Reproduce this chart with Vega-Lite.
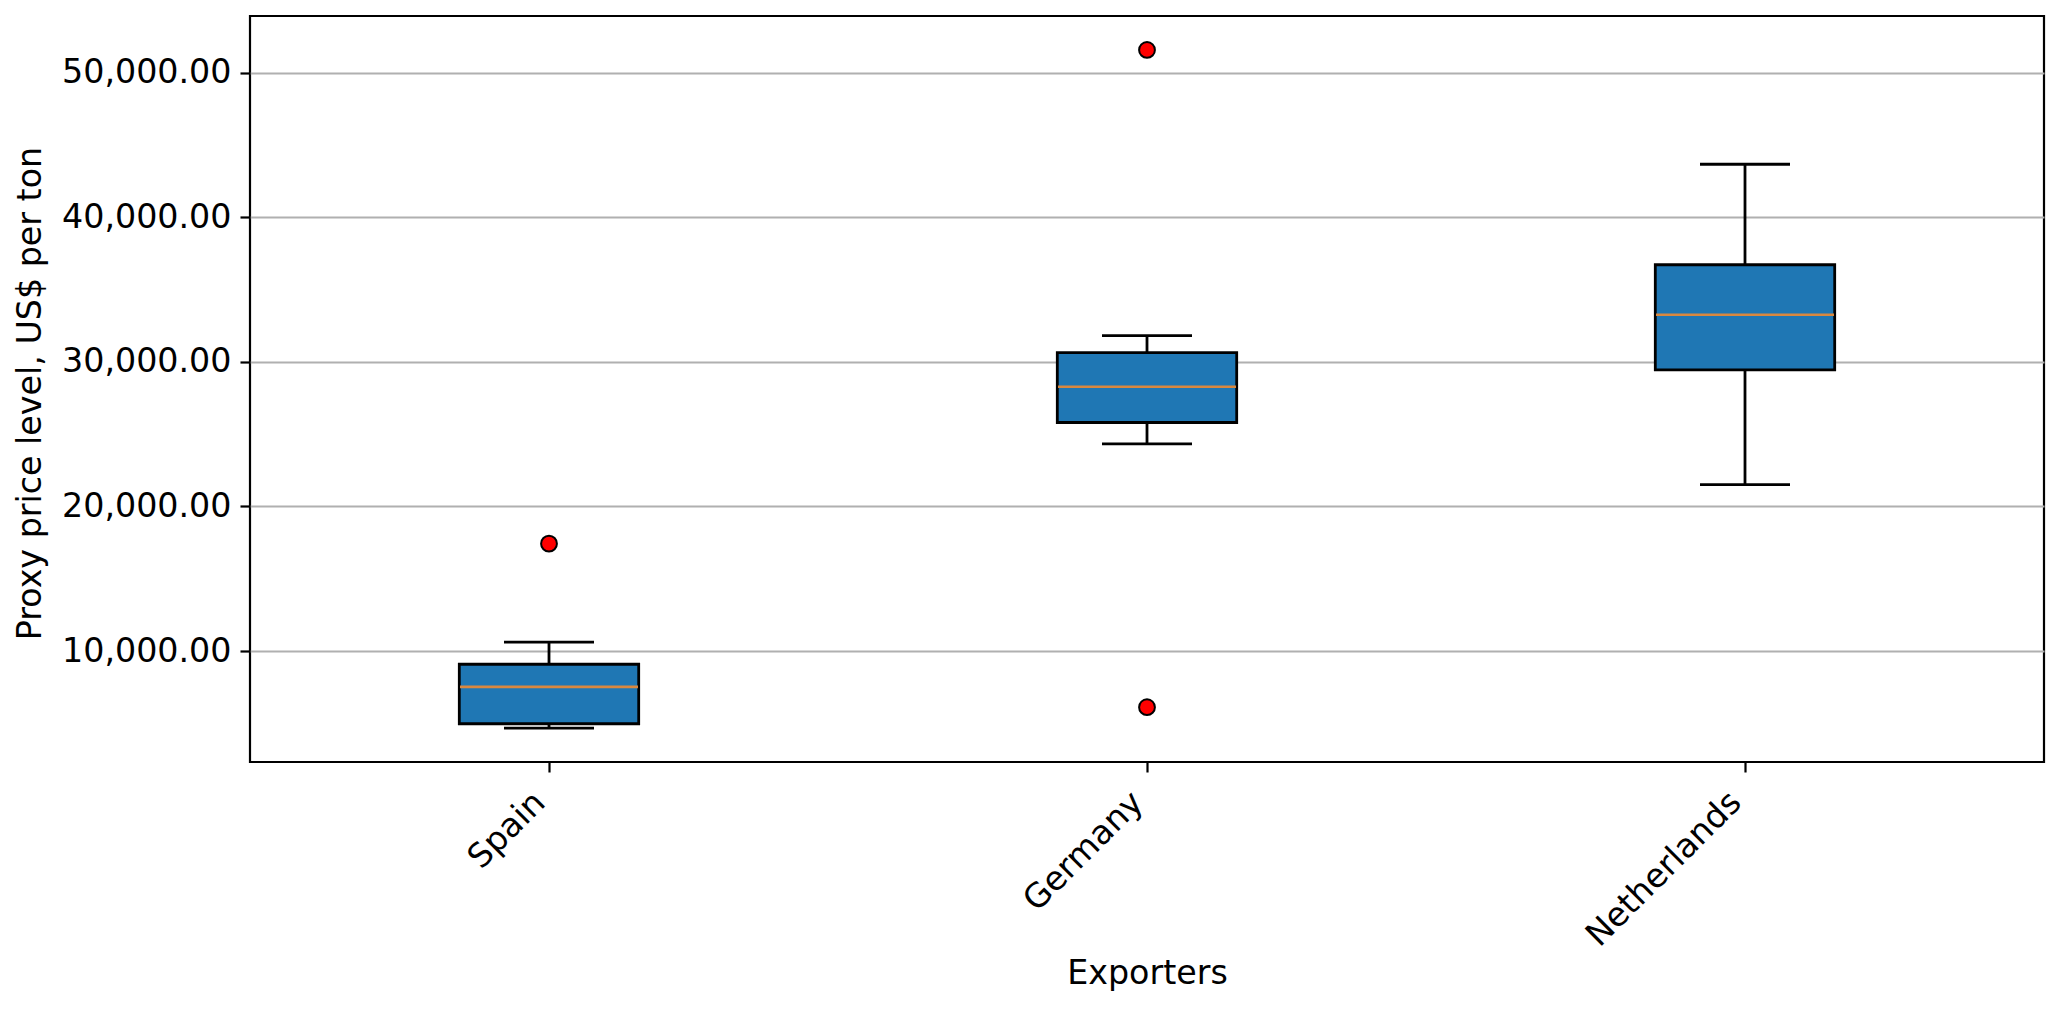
{
  "$schema": "https://vega.github.io/schema/vega-lite/v6.json",
  "autosize": "none",
  "width": 1794,
  "height": 746,
  "padding": {"left": 250, "top": 16, "right": 18, "bottom": 248},
  "background": "white",
  "config": {
    "font": "DejaVu Sans",
    "view": {"stroke": "black", "strokeWidth": 2.2},
    "axis": {
      "labelFont": "DejaVu Sans",
      "titleFont": "DejaVu Sans",
      "labelFontSize": 33.3,
      "titleFontSize": 33.3,
      "labelColor": "black",
      "titleColor": "black",
      "titleFontWeight": "normal",
      "labelLimit": 0,
      "domain": false,
      "tickColor": "black",
      "tickWidth": 2.2,
      "tickSize": 10
    }
  },
  "datasets": {
    "boxes": [
      {"exporter": "Spain", "lower": 4669, "q1": 4966, "median": 7517, "q3": 9083, "upper": 10621},
      {"exporter": "Germany", "lower": 24332, "q1": 25813, "median": 28284, "q3": 30650, "upper": 31820},
      {"exporter": "Netherlands", "lower": 21509, "q1": 29453, "median": 33266, "q3": 36727, "upper": 43682}
    ],
    "outliers": [
      {"exporter": "Spain", "price": 17428},
      {"exporter": "Germany", "price": 51592},
      {"exporter": "Germany", "price": 6111}
    ]
  },
  "data": {"name": "boxes"},
  "encoding": {
    "x": {
      "field": "exporter",
      "type": "nominal",
      "sort": ["Spain", "Germany", "Netherlands"],
      "scale": {"type": "band", "paddingInner": 0, "paddingOuter": 0},
      "axis": {
        "title": "Exporters",
        "labelAngle": -45,
        "labelAlign": "right",
        "labelBaseline": "alphabetic",
        "labelPadding": 32,
        "labelOffset": -2,
        "labelLimit": 0,
        "grid": false,
        "titleX": 897,
        "titleY": 221,
        "titleBaseline": "alphabetic",
        "titleAlign": "center"
      }
    }
  },
  "layer": [
    {
      "mark": {"type": "rule", "color": "black", "strokeWidth": 2.8},
      "encoding": {
        "y": {
          "field": "lower",
          "type": "quantitative",
          "scale": {"domain": [2320, 53940], "nice": false, "zero": false},
          "axis": {
            "title": "Proxy price level, US$ per ton",
            "values": [10000, 20000, 30000, 40000, 50000],
            "format": ",.2f",
            "labelPadding": 9,
            "grid": true,
            "gridColor": "#b0b0b0",
            "gridWidth": 2.2,
            "gridOpacity": 1,
            "titleAngle": -90,
            "titleX": -209.5,
            "titleY": 377,
            "titleAlign": "center",
            "titleBaseline": "alphabetic"
          }
        },
        "y2": {"field": "q1"}
      }
    },
    {
      "mark": {"type": "rule", "color": "black", "strokeWidth": 2.8},
      "encoding": {
        "y": {"field": "q3", "type": "quantitative"},
        "y2": {"field": "upper"}
      }
    },
    {
      "mark": {"type": "bar", "width": {"band": 0.3}, "fill": "#1f77b4", "stroke": "black", "strokeWidth": 2.8},
      "encoding": {
        "y": {"field": "q1", "type": "quantitative"},
        "y2": {"field": "q3"}
      }
    },
    {
      "mark": {"type": "tick", "color": "#d9883f", "size": 178, "thickness": 2.6, "opacity": 1},
      "encoding": {
        "y": {"field": "median", "type": "quantitative"}
      }
    },
    {
      "mark": {"type": "tick", "color": "black", "size": 90, "thickness": 2.8, "opacity": 1},
      "encoding": {
        "y": {"field": "lower", "type": "quantitative"}
      }
    },
    {
      "mark": {"type": "tick", "color": "black", "size": 90, "thickness": 2.8, "opacity": 1},
      "encoding": {
        "y": {"field": "upper", "type": "quantitative"}
      }
    },
    {
      "data": {"name": "outliers"},
      "mark": {"type": "point", "shape": "circle", "filled": true, "fill": "red", "stroke": "black", "strokeWidth": 2, "size": 250, "opacity": 1},
      "encoding": {
        "y": {"field": "price", "type": "quantitative"}
      }
    }
  ]
}
